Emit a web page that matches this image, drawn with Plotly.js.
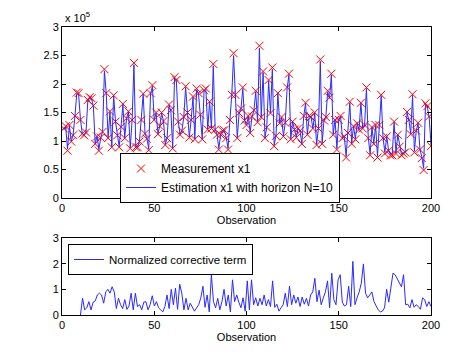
<!DOCTYPE html>
<html>
<head>
<meta charset="utf-8">
<script src="https://cdn.plot.ly/plotly-3.0.1.min.js"></script>
<style>html,body{margin:0;padding:0;background:#fff}#plot{width:474px;height:355px}</style>
</head>
<body>
<div id="plot"></div>
<script>
// Measurement x1 (units of 1e5), observations 1..200
const measurement = [
1.22,1.26,0.83,1.28,0.99,1.10,1.44,1.85,1.84,1.37,
1.13,1.10,1.15,1.72,1.77,1.75,1.62,0.95,1.08,0.83,
1.06,1.16,2.26,1.84,1.05,1.52,0.89,1.80,1.34,1.10,
0.89,1.25,1.65,1.05,1.40,1.52,0.87,1.37,2.37,0.89,
0.89,0.99,1.37,1.83,1.13,1.04,0.84,1.84,1.98,
1.37,1.50,1.12,1.26,1.50,1.35,0.93,1.05,1.64,1.54,0.87,2.12,2.07,1.34,1.11,1.18,1.42,1.96,1.50,1.06,
1.37,1.78,1.03,1.92,1.84,1.46,1.03,1.89,1.92,1.20,1.69,1.22,2.35,1.20,1.11,0.85,1.11,1.18,1.19,1.05,
0.85,1.37,1.81,2.54,1.81,1.05,1.49,1.57,1.94,1.36,1.28,1.44,
1.14,1.43,1.54,1.88,1.33,2.67,1.42,2.22,1.05,1.24,2.07,1.49,2.29,0.91,1.09,1.84,1.31,1.42,1.08,1.32,
1.94,2.18,1.03,1.34,1.20,1.06,1.22,1.18,0.95,1.44,1.67,1.11,1.44,1.42,1.22,1.50,0.93,1.22,2.43,0.95,
1.36,1.42,1.88,1.76,2.18,1.11,1.37,0.85,1.37,1.44,
1.05,1.08,0.71,1.14,1.69,0.95,1.26,1.03,1.31,1.20,1.67,1.22,1.28,1.94,1.05,0.75,1.24,0.95,1.28,0.71,
1.28,1.81,1.05,0.78,1.08,0.83,0.75,0.75,1.34,0.78,1.11,0.90,0.75,0.78,0.80,1.51,1.37,1.12,1.82,0.80,
1.18,1.32,0.85,0.70,0.49,1.66,1.61,1.43,0.91
];
// Estimation x1 with horizon N=10 (units of 1e5)
const estimation = [
1.20,1.25,0.86,1.27,1.00,1.10,1.43,1.83,1.82,1.38,
1.13,1.11,1.15,1.71,1.76,1.74,1.61,0.96,1.08,0.85,
1.06,1.16,2.23,1.83,1.06,1.51,0.90,1.79,1.34,1.11,
0.90,1.25,1.64,1.06,1.40,1.51,0.88,1.37,2.34,0.90,
0.90,1.00,1.37,1.82,1.13,1.05,0.86,1.83,1.96,
1.37,1.49,1.13,1.26,1.49,1.35,0.94,1.06,1.63,1.53,0.88,2.10,2.05,1.34,1.12,1.18,1.42,1.94,1.50,1.07,
1.37,1.77,1.04,1.90,1.83,1.46,1.04,1.88,1.90,1.21,1.68,1.22,2.32,1.21,1.12,0.87,1.11,1.18,1.19,1.06,
0.87,1.37,1.80,2.50,1.80,1.06,1.49,1.56,1.92,1.36,1.28,1.43,
1.15,1.43,1.53,1.86,1.34,2.63,1.42,2.20,1.06,1.24,2.05,1.49,2.26,0.93,1.10,1.83,1.31,1.41,1.09,1.32,
1.92,2.16,1.04,1.34,1.20,1.07,1.22,1.18,0.96,1.43,1.66,1.12,1.43,1.42,1.22,1.49,0.94,1.23,2.40,0.96,
1.36,1.42,1.86,1.75,2.16,1.12,1.37,0.87,1.37,1.43,
1.06,1.08,0.73,1.14,1.67,0.96,1.26,1.04,1.30,1.20,1.66,1.22,1.28,1.92,1.06,0.77,1.24,0.96,1.27,0.73,
1.28,1.79,1.06,0.80,1.08,0.84,0.77,0.77,1.33,0.79,1.11,0.91,0.77,0.79,0.81,1.50,1.37,1.13,1.80,0.82,
1.18,1.31,0.86,0.72,0.52,1.63,1.60,1.42,0.93
];
// Normalized corrective term, observations 10..200
const corrective = [
0,0.65,0.2,0.28,0.52,0.2,0.5,0.55,0.78,0.85,0.78,0.46,0.9,1.0,0.85,1.1,0.9,0.25,0.65,0.4,
0.25,0.6,0.22,0.35,0.85,0.2,0.85,0.33,0.4,0.2,0.5,0.52,0.2,0.4,0.75,0.35,0.52,0.28,0.2,0.12,
0.33,0.78,0.25,1.0,0.4,1.05,0.22,1.2,0.85,0.2,0.65,0.2,0.46,0.33,0.15,0.28,0.4,0.67,1.12,0.3,
0.78,0.12,1.57,0.52,0.28,0.65,0.2,0.52,1.0,0.35,0.78,0.12,1.37,0.52,0.78,0.5,0.28,0.67,
0.15,1.33,0.2,1.37,0.4,0.67,0.35,0.65,0.4,0.78,0.35,0.6,0.33,1.33,0.3,0.42,0.15,0.28,0.4,0.85,
0.33,1.12,0.4,0.78,0.46,0.7,0.33,0.7,0.42,0.65,0.35,0.78,0.9,1.43,0.52,0.97,0.4,0.67,0.9,1.33,
0.28,1.63,0.6,0.4,1.37,1.57,0.5,0.35,0.4,1.12,0.33,2.09,0.4,0.67,0.9,1.24,1.99,0.85,0.67,0.78,
0.9,0.52,0.33,0.2,0.12,0.15,0.28,1.0,0.5,1.0,1.63,1.57,1.43,1.24,1.1,1.57,0.4,0.42,0.28,0.6,
0.3,0.4,0.33,0.22,0.67,0.6,0.33,0.52,0.33
];
const xTicks = [0, 50, 100, 150, 200];
const yTicksTop = [0, 0.5, 1, 1.5, 2, 2.5, 3];
const yTicksBottom = [0, 1, 2, 3];
const corrStart = 10, corrEnd = 200;

const obs = measurement.map((_, i) => i + 1);
const corrX = corrective.map((_, i) => corrStart + i * (corrEnd - corrStart) / (corrective.length - 1));

const FONT = 'Liberation Sans, Arial, sans-serif';
const traces = [
  {x: obs, y: measurement, type: 'scatter', mode: 'markers', name: 'Measurement x1',
   marker: {symbol: 'x-thin', size: 8, color: '#ff0000', line: {width: 1, color: '#ff0000'}},
   xaxis: 'x', yaxis: 'y', legend: 'legend'},
  {x: obs, y: estimation, type: 'scatter', mode: 'lines', name: 'Estimation x1 with horizon N=10',
   line: {color: '#2a2aff', width: 1}, xaxis: 'x', yaxis: 'y', legend: 'legend'},
  {x: corrX, y: corrective, type: 'scatter', mode: 'lines', name: 'Normalized corrective term',
   line: {color: '#2a2aff', width: 1}, xaxis: 'x2', yaxis: 'y2', legend: 'legend2'}
];

const axisCommon = {
  showline: true, linecolor: '#000', linewidth: 1, mirror: 'ticks',
  ticks: 'inside', ticklen: 4, tickcolor: '#000', showgrid: false, zeroline: false,
  tickfont: {family: FONT, size: 11, color: '#000'}, automargin: false
};
const xd = [62/474, 431/474];
const layout = {
  width: 474, height: 355,
  margin: {l: 0, r: 0, t: 0, b: 0},
  paper_bgcolor: '#fff', plot_bgcolor: '#fff',
  font: {family: FONT, size: 11, color: '#000'},
  xaxis: Object.assign({}, axisCommon, {domain: xd, range: [0, 200], tickvals: xTicks, anchor: 'y',
    title: {text: 'Observation', font: {family: FONT, size: 11}, standoff: 2}}),
  yaxis: Object.assign({}, axisCommon, {domain: [(355-198)/355, (355-27)/355], range: [0, 3], tickvals: yTicksTop, anchor: 'x'}),
  xaxis2: Object.assign({}, axisCommon, {domain: xd, range: [0, 200], tickvals: xTicks, anchor: 'y2',
    title: {text: 'Observation', font: {family: FONT, size: 11}, standoff: 2}}),
  yaxis2: Object.assign({}, axisCommon, {domain: [(355-315)/355, (355-238)/355], range: [0, 3], tickvals: yTicksBottom, anchor: 'x2'}),
  legend: {x: 120/474, y: 1 - 153/355, xanchor: 'left', yanchor: 'top', bgcolor: '#fff',
    bordercolor: '#000', borderwidth: 1, font: {family: FONT, size: 12}, tracegroupgap: 0},
  legend2: {x: 68/474, y: 1 - 244/355, xanchor: 'left', yanchor: 'top', bgcolor: '#fff',
    bordercolor: '#000', borderwidth: 1, font: {family: FONT, size: 11.5}},
  showlegend: true,
  annotations: [{text: 'x 10<sup>5</sup>', xref: 'paper', yref: 'paper', x: 63/474, y: 1 - 17/355,
    xanchor: 'left', yanchor: 'middle', showarrow: false, font: {family: FONT, size: 11}}]
};
Plotly.newPlot('plot', traces, layout, {staticPlot: true, displayModeBar: false});
</script>
</body>
</html>
